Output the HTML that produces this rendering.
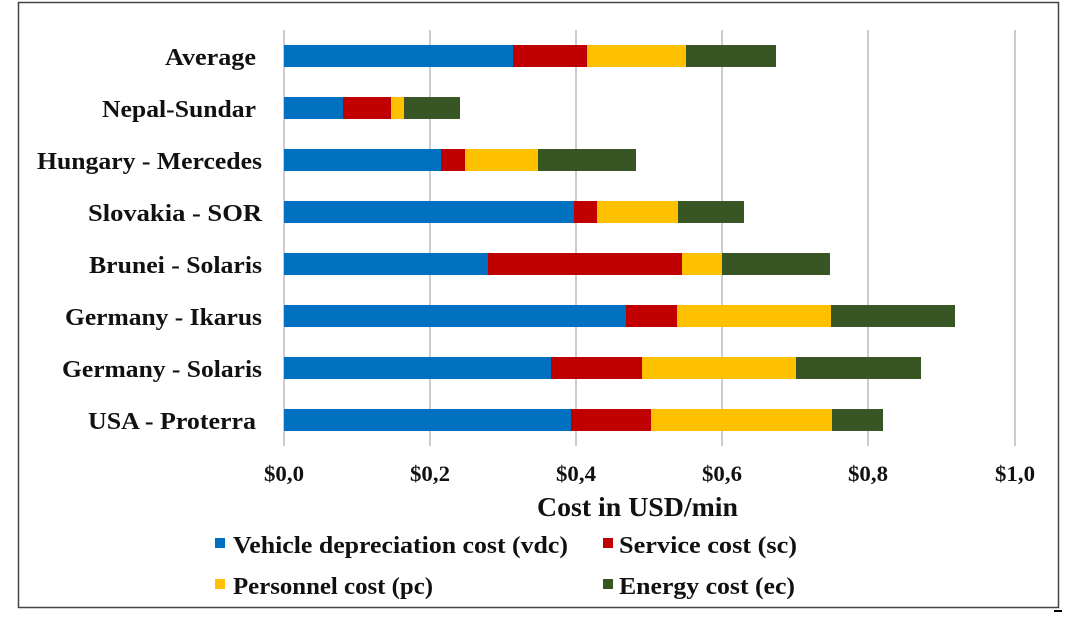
<!DOCTYPE html>
<html><head><style>
body{margin:0;background:#fff;}
svg{display:block;font-family:"Liberation Serif",serif;font-weight:bold;}
</style></head><body>
<svg width="1086" height="618" viewBox="0 0 1086 618">
<rect x="18.5" y="2.5" width="1040" height="605" fill="none" stroke="#444" stroke-width="1.5"/>
<line x1="1054" y1="611" x2="1062" y2="611" stroke="#000" stroke-width="2"/>
<g stroke="#999" stroke-width="1">
<line x1="284" y1="30" x2="284" y2="446"/>
<line x1="430" y1="30" x2="430" y2="446"/>
<line x1="576" y1="30" x2="576" y2="446"/>
<line x1="722" y1="30" x2="722" y2="446"/>
<line x1="868" y1="30" x2="868" y2="446"/>
<line x1="1015" y1="30" x2="1015" y2="446"/>
</g>
<g>
<rect x="284" y="45" width="229" height="22" fill="#0070C0"/><rect x="513" y="45" width="74" height="22" fill="#C00000"/><rect x="587" y="45" width="99" height="22" fill="#FFC000"/><rect x="686" y="45" width="90" height="22" fill="#375623"/>
<rect x="284" y="97" width="59" height="22" fill="#0070C0"/><rect x="343" y="97" width="48" height="22" fill="#C00000"/><rect x="391" y="97" width="13" height="22" fill="#FFC000"/><rect x="404" y="97" width="56" height="22" fill="#375623"/>
<rect x="284" y="149" width="157" height="22" fill="#0070C0"/><rect x="441" y="149" width="24" height="22" fill="#C00000"/><rect x="465" y="149" width="73" height="22" fill="#FFC000"/><rect x="538" y="149" width="98" height="22" fill="#375623"/>
<rect x="284" y="201" width="290" height="22" fill="#0070C0"/><rect x="574" y="201" width="23" height="22" fill="#C00000"/><rect x="597" y="201" width="81" height="22" fill="#FFC000"/><rect x="678" y="201" width="66" height="22" fill="#375623"/>
<rect x="284" y="253" width="204" height="22" fill="#0070C0"/><rect x="488" y="253" width="194" height="22" fill="#C00000"/><rect x="682" y="253" width="40" height="22" fill="#FFC000"/><rect x="722" y="253" width="108" height="22" fill="#375623"/>
<rect x="284" y="305" width="342" height="22" fill="#0070C0"/><rect x="626" y="305" width="51" height="22" fill="#C00000"/><rect x="677" y="305" width="154" height="22" fill="#FFC000"/><rect x="831" y="305" width="124" height="22" fill="#375623"/>
<rect x="284" y="357" width="267" height="22" fill="#0070C0"/><rect x="551" y="357" width="91" height="22" fill="#C00000"/><rect x="642" y="357" width="154" height="22" fill="#FFC000"/><rect x="796" y="357" width="125" height="22" fill="#375623"/>
<rect x="284" y="409" width="287" height="22" fill="#0070C0"/><rect x="571" y="409" width="80" height="22" fill="#C00000"/><rect x="651" y="409" width="181" height="22" fill="#FFC000"/><rect x="832" y="409" width="51" height="22" fill="#375623"/>
</g>
<g font-size="24" fill="#111">
<text x="165" y="65" textLength="91" lengthAdjust="spacingAndGlyphs">Average</text>
<text x="102" y="117" textLength="154" lengthAdjust="spacingAndGlyphs">Nepal-Sundar</text>
<text x="37" y="169" textLength="225" lengthAdjust="spacingAndGlyphs">Hungary - Mercedes</text>
<text x="88" y="221" textLength="174" lengthAdjust="spacingAndGlyphs">Slovakia - SOR</text>
<text x="89" y="273" textLength="173" lengthAdjust="spacingAndGlyphs">Brunei - Solaris</text>
<text x="65" y="325" textLength="197" lengthAdjust="spacingAndGlyphs">Germany - Ikarus</text>
<text x="62" y="377" textLength="200" lengthAdjust="spacingAndGlyphs">Germany - Solaris</text>
<text x="88" y="429" textLength="168" lengthAdjust="spacingAndGlyphs">USA - Proterra</text>
</g>
<g font-size="22" fill="#111">
<text x="264" y="481" textLength="40" lengthAdjust="spacingAndGlyphs">$0,0</text>
<text x="410" y="481" textLength="40" lengthAdjust="spacingAndGlyphs">$0,2</text>
<text x="556" y="481" textLength="40" lengthAdjust="spacingAndGlyphs">$0,4</text>
<text x="702" y="481" textLength="40" lengthAdjust="spacingAndGlyphs">$0,6</text>
<text x="848" y="481" textLength="40" lengthAdjust="spacingAndGlyphs">$0,8</text>
<text x="995" y="481" textLength="40" lengthAdjust="spacingAndGlyphs">$1,0</text>
<text x="537" y="516" font-size="27" textLength="201" lengthAdjust="spacingAndGlyphs">Cost in USD/min</text>
</g>
<g font-size="24" fill="#111">
<rect x="215" y="538" width="10" height="10" fill="#0070C0"/><text x="233" y="553" textLength="335" lengthAdjust="spacingAndGlyphs">Vehicle depreciation cost (vdc)</text>
<rect x="603" y="538" width="10" height="10" fill="#C00000"/><text x="619" y="553" textLength="178" lengthAdjust="spacingAndGlyphs">Service cost (sc)</text>
<rect x="215" y="579" width="10" height="10" fill="#FFC000"/><text x="233" y="594" textLength="200" lengthAdjust="spacingAndGlyphs">Personnel cost (pc)</text>
<rect x="603" y="579" width="10" height="10" fill="#375623"/><text x="619" y="594" textLength="176" lengthAdjust="spacingAndGlyphs">Energy cost (ec)</text>
</g>
</svg>
</body></html>
